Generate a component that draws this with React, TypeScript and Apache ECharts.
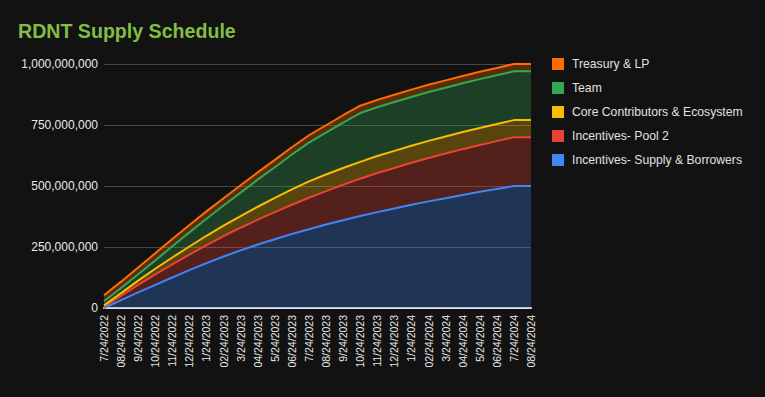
import React, { useEffect, useRef } from "react";
import * as echarts from "echarts";

const categories = [
  "7/24/2022", "08/24/2022", "9/24/2022", "10/24/2022", "11/24/2022", "12/24/2022",
  "1/24/2023", "02/24/2023", "3/24/2023", "04/24/2023", "5/24/2023", "06/24/2023",
  "7/24/2023", "08/24/2023", "9/24/2023", "10/24/2023", "11/24/2023", "12/24/2023",
  "1/24/2024", "02/24/2024", "3/24/2024", "04/24/2024", "5/24/2024", "06/24/2024",
  "7/24/2024", "08/24/2024",
];

// values in millions of tokens
const supplyBorrowers = [0, 32, 64, 95, 125, 155, 184, 211, 236, 260, 282, 303, 323, 342, 360, 377, 393, 408, 423, 437, 450, 463, 476, 488, 500, 500];
const pool2 = [5, 18, 31, 43, 54, 64, 74, 84, 93, 102, 111, 120, 129, 137, 145, 153, 160, 166, 172, 178, 183, 188, 192, 196, 200, 200];
const coreContributors = [6, 11, 17, 23, 28, 33, 38, 43, 48, 53, 58, 63, 67, 68, 69, 69, 70, 70, 70, 70, 70, 70, 70, 70, 70, 70];
const team = [17, 21, 26, 34, 46, 58, 70, 82, 96, 111, 126, 143, 159, 172, 186, 200, 200, 200, 200, 200, 200, 200, 200, 200, 200, 200];
const treasury = [24, 26, 28, 29, 30, 30, 30, 30, 30, 30, 30, 30, 30, 30, 30, 30, 30, 30, 30, 30, 30, 30, 30, 30, 30, 30];

const yTicks = [0, 250000000, 500000000, 750000000, 1000000000];

const seriesDefs = [
  { name: "Incentives- Supply & Borrowers", data: supplyBorrowers, color: "#4285f4" },
  { name: "Incentives- Pool 2", data: pool2, color: "#ea4335" },
  { name: "Core Contributors & Ecosystem", data: coreContributors, color: "#fbbc04" },
  { name: "Team", data: team, color: "#34a853" },
  { name: "Treasury & LP", data: treasury, color: "#ff6d01" },
];

export default function App() {
  const ref = useRef<HTMLDivElement>(null);
  useEffect(() => {
    document.body.style.margin = "0";
    document.body.style.background = "#121212";
    const chart = echarts.init(ref.current!, undefined, { renderer: "svg" });
    chart.setOption({
      animation: false,
      backgroundColor: "#121212",
      title: {
        text: "RDNT Supply Schedule",
        left: 18,
        top: 21,
        padding: 0,
        textStyle: {
          color: "#82bd44",
          fontSize: 19.6,
          fontWeight: "bold",
          fontFamily: "Liberation Sans, Arial, sans-serif",
        },
      },
      legend: {
        orient: "vertical",
        left: 552,
        top: 58,
        padding: 0,
        itemWidth: 12,
        itemHeight: 12,
        itemGap: 12,
        icon: "rect",
        data: seriesDefs.map((s) => s.name).reverse(),
        textStyle: {
          color: "#e0e0e0",
          fontSize: 12.2,
          fontFamily: "Liberation Sans, Arial, sans-serif",
          padding: [0, 0, 0, 3],
        },
      },
      grid: { left: 104, right: 234, top: 64, bottom: 89, containLabel: false },
      xAxis: {
        type: "category",
        data: categories,
        boundaryGap: false,
        axisLine: { lineStyle: { color: "#e0e0e0", width: 2 } },
        axisTick: { show: false },
        axisLabel: {
          interval: 0,
          rotate: 90,
          margin: 7,
          color: "#e8e8e8",
          fontSize: 10.5,
          fontFamily: "Liberation Sans, Arial, sans-serif",
        },
      },
      yAxis: {
        type: "value",
        min: yTicks[0],
        max: yTicks[yTicks.length - 1],
        interval: yTicks[1] - yTicks[0],
        axisLine: { show: false },
        axisTick: { show: false },
        splitLine: { lineStyle: { color: "#474747", width: 1 } },
        axisLabel: {
          margin: 6,
          color: "#e8e8e8",
          fontSize: 12,
          fontFamily: "Liberation Sans, Arial, sans-serif",
          formatter: (v: number) => v.toLocaleString("en-US"),
        },
      },
      series: seriesDefs.map((s) => ({
        name: s.name,
        type: "line",
        stack: "total",
        data: s.data.map((v) => v * 1000000),
        showSymbol: false,
        symbol: "none",
        color: s.color,
        lineStyle: { color: s.color, width: 2 },
        areaStyle: { color: s.color, opacity: 0.3 },
      })),
    });
    return () => chart.dispose();
  }, []);
  return (
    <div
      ref={ref}
      style={{ position: "absolute", left: 0, top: 0, width: 765, height: 397, background: "#121212" }}
    />
  );
}
